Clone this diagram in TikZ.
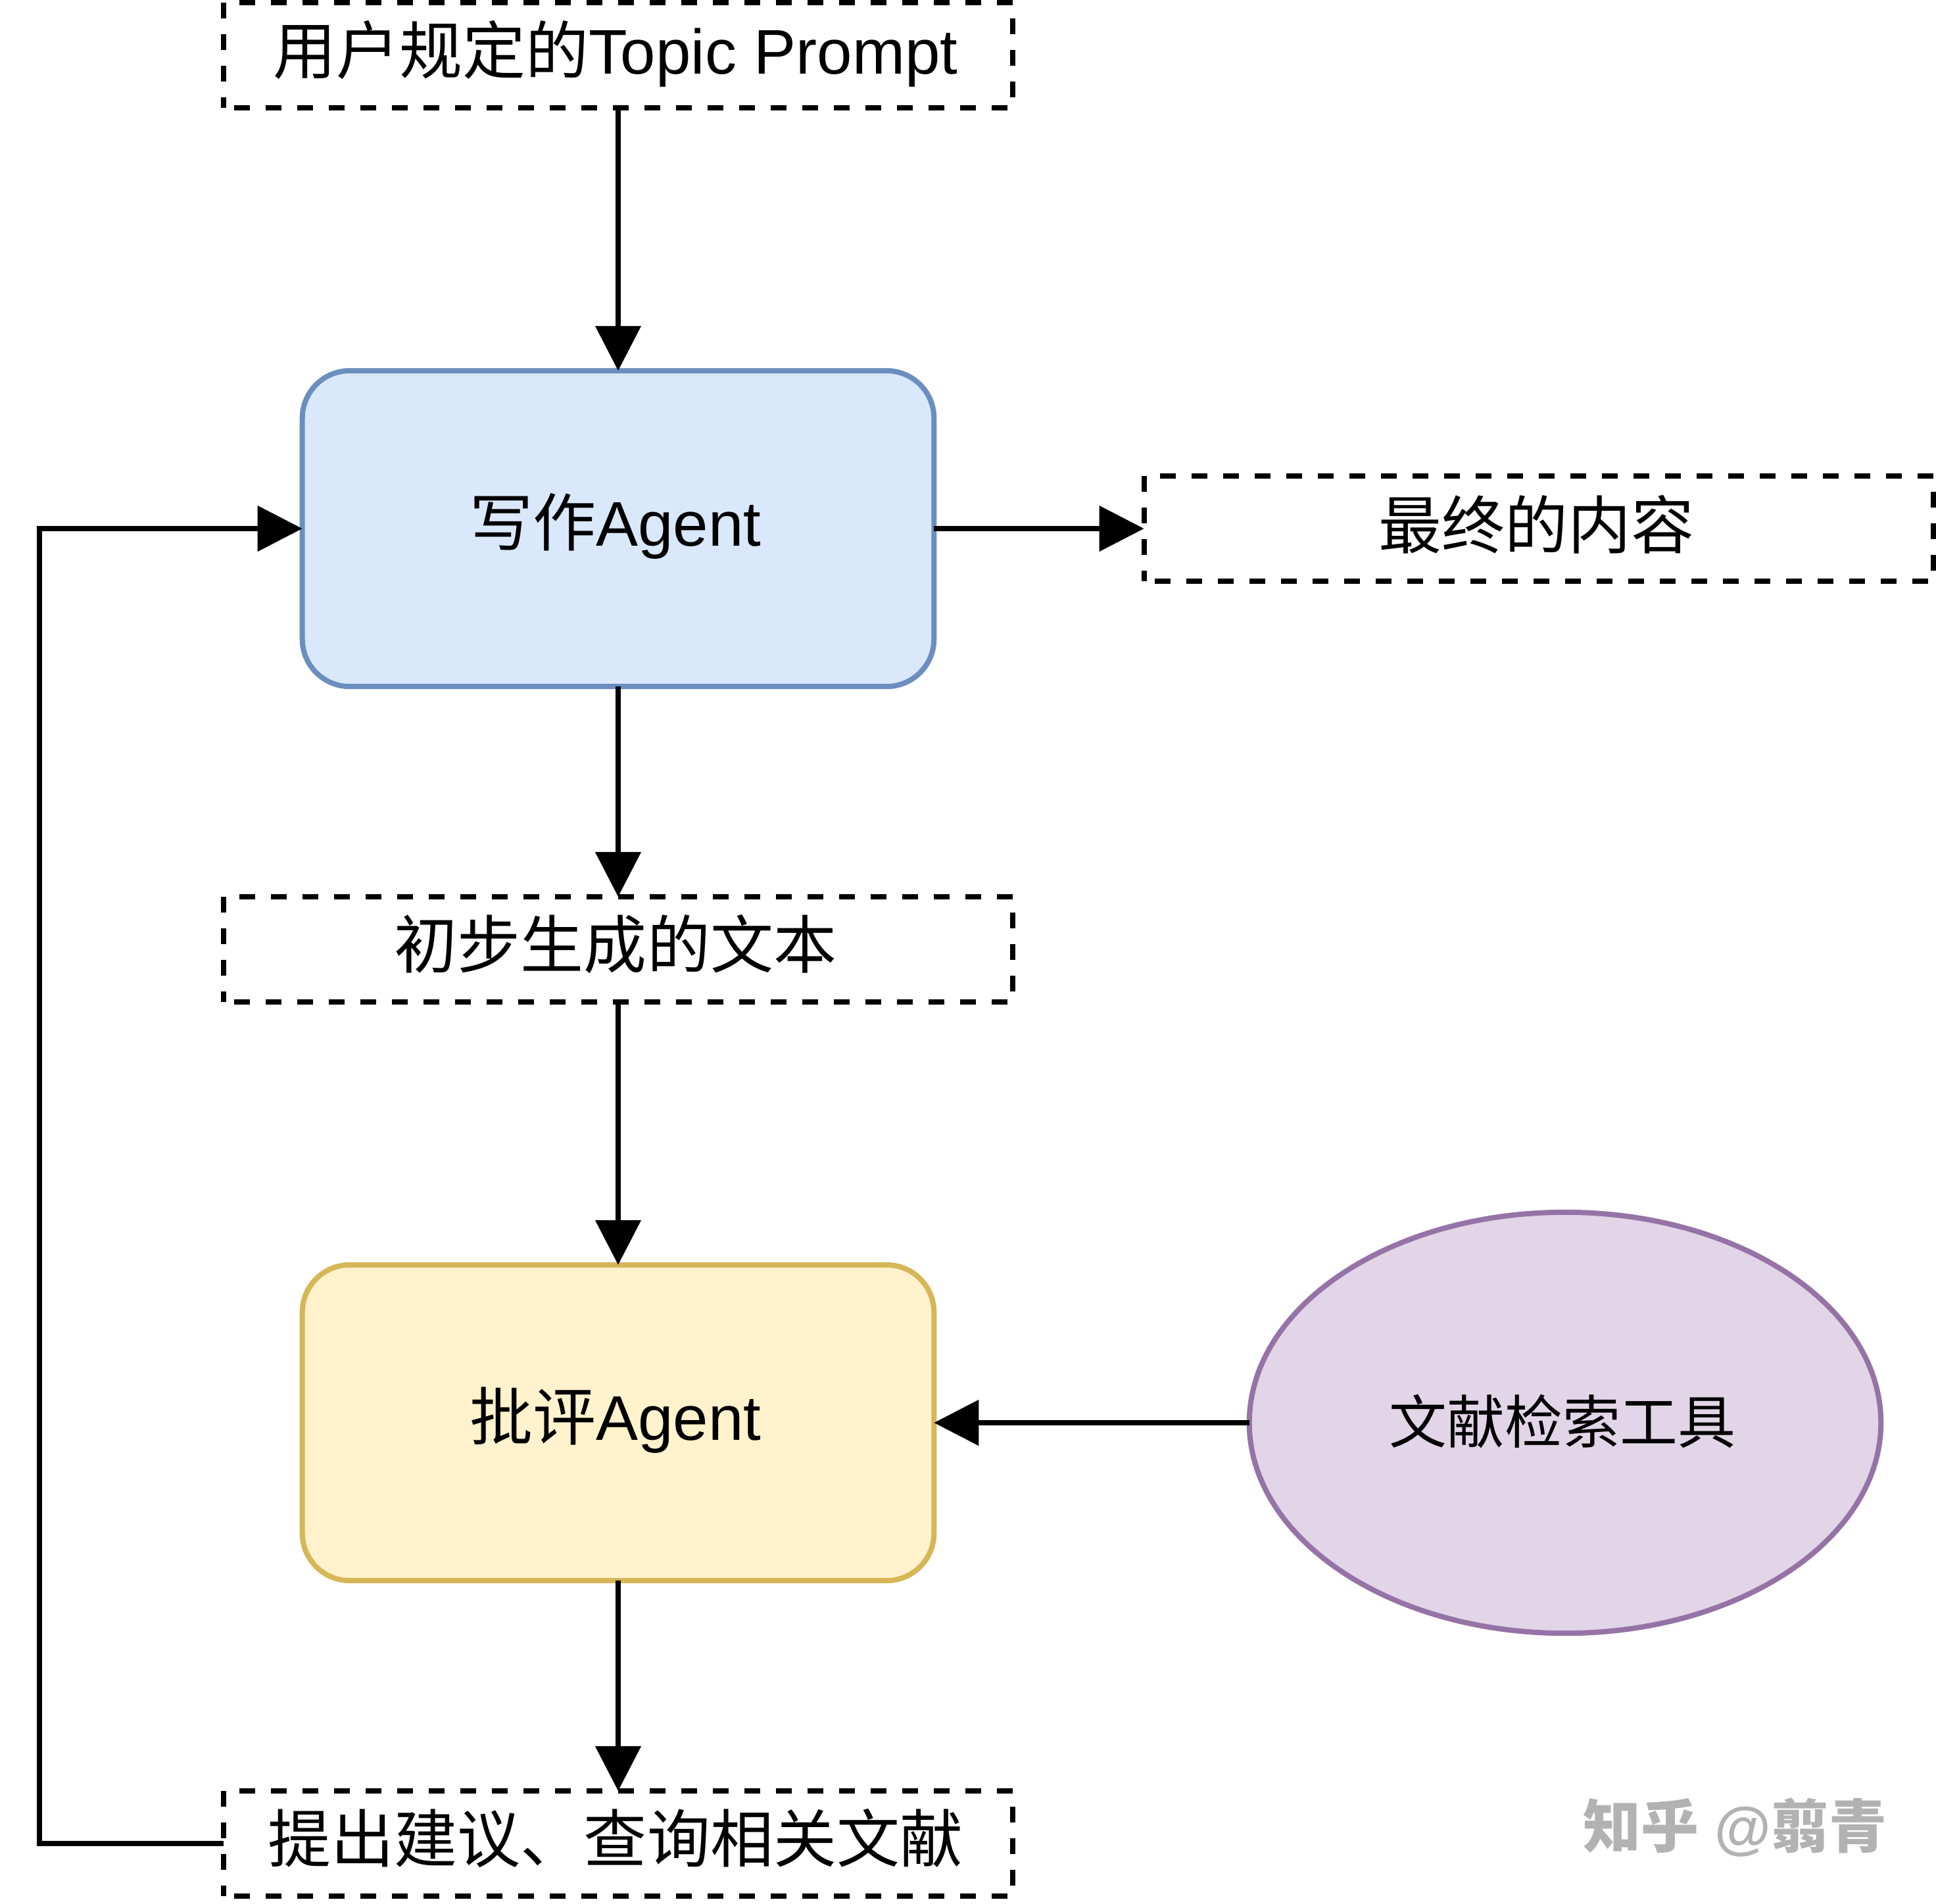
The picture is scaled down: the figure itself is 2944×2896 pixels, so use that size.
\documentclass[tikz,border=0pt]{standalone}
\usepackage{fontspec}
\usepackage{tikz}
\usetikzlibrary{arrows.meta,shapes.geometric}
\setmainfont{Liberation Sans}
\newfontfamily\cjk{Noto Sans CJK SC}

\definecolor{writerfill}{HTML}{DAE8FC}
\definecolor{writerline}{HTML}{6C8EBF}
\definecolor{criticfill}{HTML}{FFF2CC}
\definecolor{criticline}{HTML}{D6B656}
\definecolor{toolfill}{HTML}{E1D5E7}
\definecolor{toolline}{HTML}{9673A6}

% nudge a label inside its fixed-size box
\newcommand{\lbl}[2]{\raisebox{#1}[\height][\depth]{\kern-0.08cm #2}}

\tikzset{
    box/.style={draw, line width=0.08cm, outer sep=0pt, inner sep=0pt, align=center,
        font=\fontsize{27.3}{32}\selectfont},
    textbox/.style={box, dash pattern=on 0.24cm off 0.24cm, dash phase=0.32cm, minimum width=12cm, minimum height=1.6cm},
    agent/.style={box, rounded corners=0.72cm, minimum width=9.6cm, minimum height=4.8cm},
    link/.style={line width=0.08cm, -{Triangle[length=0.68cm,width=0.68cm]}}
}

\begin{document}
\begin{tikzpicture}[x=0.01cm, y=-0.01cm]
        \useasboundingbox (0, 0) rectangle (2944, 2896);

        % Draw the boxes of the middle column
        \node[textbox] (topic) at (940, 84) {\lbl{0.02cm}{{\cjk 用户规定的}Topic Prompt}};
        \node[agent, fill=writerfill, draw=writerline] (writer) at (940, 804) {\lbl{0.04cm}{{\cjk 写作}Agent}};
        \node[textbox] (draft) at (940, 1444) {\lbl{0.08cm}{\cjk 初步生成的文本}};
        \node[agent, fill=criticfill, draw=criticline] (critic) at (940, 2164) {\lbl{0.04cm}{{\cjk 批评}Agent}};
        \node[textbox] (advice) at (940, 2804) {\lbl{0.08cm}{\cjk 提出建议、查询相关文献}};

        % Draw the output and the tool on the right
        \node[textbox] (final) at (2340, 804) {\lbl{0.06cm}{\cjk 最终的内容}};
        \node[box, ellipse, fill=toolfill, draw=toolline, minimum width=9.6cm, minimum height=6.4cm,
            font=\fontsize{25}{30}\selectfont] (tool) at (2380, 2164) {\lbl{0.02cm}{\cjk 文献检索工具}};

        % Draw the arrows
        \draw[link] (topic) -- (writer);
        \draw[link] (writer) -- (draft);
        \draw[link] (writer) -- (final);
        \draw[link] (draft) -- (critic);
        \draw[link] (critic) -- (advice);
        \draw[link] (tool) -- (critic);

        % Draw the feedback line on the left
        \coordinate (backbottom) at (60, 2804);
        \coordinate (backtop) at (60, 804);
        \draw[link] (advice) -- (backbottom) -- (backtop) -- (writer);

        % Watermark
        \node[text=black!30, font=\fontsize{25}{30}\selectfont\bfseries, inner sep=0pt] (mark) at (2638, 2779) {{\cjk 知乎} @{\cjk 翦青}};
    \end{tikzpicture}
\end{document}
